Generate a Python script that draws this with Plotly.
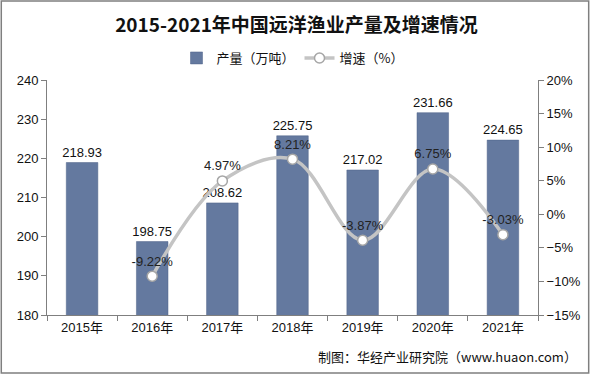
import plotly.graph_objects as go

years = ["2015年", "2016年", "2017年", "2018年", "2019年", "2020年", "2021年"]
output = [218.93, 198.75, 208.62, 225.75, 217.02, 231.66, 224.65]
growth = [None, -9.22, 4.97, 8.21, -3.87, 6.75, -3.03]

W, H = 593, 374
ml, mr, mt, mb = 47, 52, 80, 59

fig = go.Figure()
fig.add_trace(go.Bar(
    x=years, y=output, name="产量（万吨）",
    marker=dict(color="#64799F", line=dict(color="#4F6389", width=0.5)),
    width=0.45,
    text=[f"{v:.2f}" for v in output], textposition="outside",
    constraintext="none",
    textfont=dict(size=13, color="#111111", family="Liberation Sans, Arial"),
    cliponaxis=False,
))
fig.add_trace(go.Scatter(
    x=years, y=growth, name="增速（%）", yaxis="y2",
    mode="lines+markers+text",
    line=dict(color="#C4C4C4", width=3.5, shape="spline", smoothing=1.0),
    marker=dict(size=10, color="white", line=dict(color="#A6A6A6", width=1.5)),
    text=[("" if v is None else f"{v:.2f}%") for v in growth],
    textposition="top center",
    textfont=dict(size=13, color="#222222", family="Liberation Sans, Arial"),
    cliponaxis=False, connectgaps=False,
))

axis_font = dict(size=13, color="#111111", family="Liberation Sans, Arial")
fig.update_layout(
    width=W, height=H,
    margin=dict(l=ml, r=mr, t=mt, b=mb),
    paper_bgcolor="white", plot_bgcolor="white",
    title=dict(text="<b>2015-2021年中国远洋渔业产量及增速情况</b>",
               x=0.5, xanchor="center", y=1 - 25 / H, yanchor="middle",
               font=dict(size=19, color="#111111", family="Noto Sans CJK SC")),
    legend=dict(orientation="h", x=0.5, xanchor="center", y=1 + 22 / (H - mt - mb),
                yanchor="middle", font=dict(size=13, color="#111111", family="Noto Sans CJK SC"),
                itemwidth=30, bgcolor="rgba(0,0,0,0)"),
    xaxis=dict(showline=True, linecolor="#7F7F7F", linewidth=1, ticks="outside",
               tickson="boundaries", ticklen=5, tickcolor="#7F7F7F",
               tickfont=dict(size=13, color="#111111", family="Liberation Sans, Arial, Noto Sans CJK SC"),
               showgrid=False),
    yaxis=dict(range=[180, 240], dtick=10, showline=True, linecolor="#7F7F7F",
               ticks="outside", ticklen=5, tickcolor="#7F7F7F", showgrid=False,
               tickfont=axis_font, zeroline=False),
    yaxis2=dict(range=[-15, 20], dtick=5, overlaying="y", side="right", ticksuffix="%",
                showline=True, linecolor="#7F7F7F", ticks="outside", ticklen=5,
                tickcolor="#7F7F7F", showgrid=False, tickfont=axis_font, zeroline=False),
    bargap=0.55,
    showlegend=True,
)

pw, ph = W - ml - mr, H - mt - mb
def px(x):
    return (x - ml) / pw
def py(y):
    return (H - mb - y) / ph

# outer border
fig.add_shape(type="rect", xref="paper", yref="paper",
              x0=px(1), x1=px(W - 1), y0=py(H - 1), y1=py(1),
              line=dict(color="#7F7F7F", width=1.5), layer="below")

fig.add_annotation(text="制图：华经产业研究院（www.huaon.com）", xref="paper", yref="paper",
                   x=px(582), y=py(356), xanchor="right", yanchor="middle", showarrow=False,
                   font=dict(size=13, color="#111111", family="Noto Sans CJK SC"))

fig.write_html("out.html", config={"displayModeBar": False},
               post_script="document.body.style.margin='0';document.body.style.overflow='hidden';")
